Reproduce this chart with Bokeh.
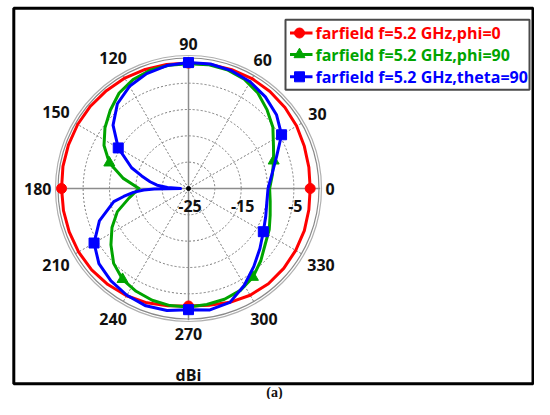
import numpy as np
from bokeh.plotting import figure
from bokeh.models import Range1d, BoxAnnotation
from bokeh.core.properties import value
from bokeh.embed import file_html
from bokeh.resources import INLINE

# ---------------- data ----------------
red_angles = [0, 10, 20, 30, 40, 50, 60, 70, 80, 90, 100, 110, 120, 130, 140, 150,
              160, 170, 180, 190, 200, 210, 220, 230, 240, 250, 260, 270, 280, 290,
              300, 310, 320, 330, 340, 350]
red_db = [-1.9, -1.8, -1.6, -1.3, -1.1, -0.95, -0.9, -1.0, -1.1, -1.2, -1.1, -0.95,
          -0.8, -0.75, -0.7, -0.7, -0.75, -0.8, -0.9, -0.9, -0.9, -0.9, -1.0, -1.2,
          -1.5, -1.9, -2.4, -2.7, -2.5, -2.0, -1.6, -1.4, -1.4, -1.5, -1.6, -1.8]
red_marker_angles = [0, 90, 180, 270]

green_angles = [0, 9, 18, 27, 36, 45, 54, 63, 72, 81, 90, 99, 108, 117, 126, 135,
                144, 153, 162, 171, 180, 189, 198, 207, 216, 225, 234, 243, 252,
                261, 270, 279, 288, 297, 306, 315, 324, 333, 342, 351]
green_db = [-9.6, -8.9, -8.0, -6.9, -5.2, -3.9, -2.6, -1.7, -1.3, -1.2, -1.3, -1.3,
            -1.4, -1.8, -2.6, -4.0, -5.4, -7.0, -9.2, -12.4, -15.6, -13.6, -10.8,
            -8.7, -6.8, -4.9, -3.7, -3.1, -2.7, -2.5, -2.5, -2.7, -2.9, -3.3, -4.2,
            -5.6, -7.0, -7.8, -8.7, -9.3]
green_marker_angles = [18, 90, 162, 234, 306]

blue_angles = [0, 10, 20, 30, 40, 50, 60, 70, 80, 90, 100, 110, 120, 130, 140, 150,
               160, 165, 170, 174, 177, 180, 181, 182, 184, 187, 190, 200, 210, 220,
               230, 240, 250, 260, 270, 280, 290, 300, 310, 320, 330, 340, 350]
blue_db = [-9.9, -8.9, -7.2, -4.6, -3.2, -2.3, -1.6, -1.2, -1.0, -1.1, -1.3, -1.8,
           -2.6, -4.0, -6.3, -9.6, -13.5, -15.8, -17.6, -19.0, -21.0, -23.5, -18.5,
           -16.5, -14.5, -12.6, -10.6, -7.0, -4.3, -2.8, -2.1, -1.6, -1.3, -1.5,
           -2.0, -1.6, -2.0, -3.8, -5.7, -7.3, -8.6, -9.4, -9.9]
blue_marker_angles = [30, 90, 150, 210, 270, 330]

series_labels = ["farfield f=5.2 GHz,phi=0",
                 "farfield f=5.2 GHz,phi=90",
                 "farfield f=5.2 GHz,theta=90"]
series_colors = ["#ff0000", "#00a400", "#0000ff"]
series_markers = ["circle", "triangle", "square"]

angle_ticks = [0, 30, 60, 90, 120, 150, 180, 210, 240, 270, 300, 330]
angle_labels = ["0", "30", "60", "90", "120", "150", "180", "210", "240", "270", "300", "330"]
radial_ticks = [-25, -15, -5]
radial_labels = ["-25", "-15", "-5"]
grid_db = [-20, -15, -10, -5]
db_min, db_max = -25, 0
unit_label = "dBi"
caption = "(a)"

# ---------------- geometry ----------------
R_OUT = 131.7                      # px radius of the 0 dB ring
SCALE = R_OUT / (db_max - db_min)  # px per dB
FONT = value("Open Sans")
W, H = 534, 399
CX, CY = 188, 188                  # pixel position of the pole inside the figure


def rad(db):
    return (np.asarray(db, dtype=float) - db_min) * SCALE


def xy(angles, db, close=True):
    a = np.radians(np.asarray(angles, dtype=float))
    r = rad(db)
    x, y = r * np.cos(a), r * np.sin(a)
    if close:
        x, y = np.append(x, x[0]), np.append(y, y[0])
    return x, y


p = figure(width=W, height=H, output_backend="svg", toolbar_location=None,
           x_range=Range1d(-CX, W - CX), y_range=Range1d(CY - H, CY),
           x_axis_location=None, y_axis_location=None, min_border=0,
           background_fill_color="white", border_fill_color="white")
p.grid.visible = False
p.outline_line_color = None

# outer frame
p.add_layout(BoxAnnotation(left=13.3 - CX, right=532.5 - CX, top=CY - 7.8, bottom=CY - 383.3,
                           fill_alpha=0, line_color="black", line_alpha=1, line_width=3))

# dotted rings
p.circle(x=[0] * len(grid_db), y=[0] * len(grid_db), radius=list(rad(grid_db)),
         fill_color=None, line_color="#7a7a7a", line_width=1, line_dash="2 2")
# dotted spokes
spokes = [a for a in angle_ticks if a % 90 != 0]
sa = np.radians(spokes)
p.segment(x0=[0] * len(spokes), y0=[0] * len(spokes),
          x1=list(R_OUT * np.cos(sa)), y1=list(R_OUT * np.sin(sa)),
          line_color="#7a7a7a", line_width=1, line_dash="2 2")
# solid axes
p.segment(x0=[-R_OUT, 0], y0=[0, -R_OUT], x1=[R_OUT, 0], y1=[0, R_OUT],
          line_color="#8c8c8c", line_width=1.5)
# outer double ring
p.circle(x=[0, 0], y=[0, 0], radius=[R_OUT - 1.2, R_OUT + 1.3],
         fill_color=None, line_color=["#8a8a8a", "#b0b0b0"], line_width=1.2)
p.scatter(x=[0], y=[0], size=4, color="black")

# series
series = [(red_angles, red_db, red_marker_angles),
          (green_angles, green_db, green_marker_angles),
          (blue_angles, blue_db, blue_marker_angles)]
for (ang, db, mang), col, mk in zip(series, series_colors, series_markers):
    x, y = xy(ang, db)
    p.line(x, y, line_color=col, line_width=3, line_join="round")
    mdb = [db[ang.index(m)] for m in mang]
    mx, my = xy(mang, mdb, close=False)
    p.scatter(mx, my, marker=mk, size=11 if mk == "triangle" else 10,
              fill_color=col, line_color=col)

# angle labels
lx, ly = [], []
for a, lab in zip(angle_ticks, angle_labels):
    t = np.radians(a)
    w = 9.2 * len(lab)
    R = 137 + (w / 2) * abs(np.cos(t)) + 8 * abs(np.sin(t))
    lx.append(R * np.cos(t))
    ly.append(R * np.sin(t))
p.text(x=lx, y=ly, text=angle_labels, text_align="center", text_baseline="middle",
       text_font=FONT, text_font_style="bold", text_font_size="16px", text_color="#111111")

# radial labels
p.text(x=list(rad(radial_ticks) + 1.5), y=[-17] * len(radial_ticks), text=radial_labels,
       text_align="center", text_baseline="middle", text_font=FONT,
       text_font_style="bold", text_font_size="16px", text_color="#111111")

p.text(x=[0], y=[CY - 374], text=[unit_label], text_align="center", text_baseline="middle",
       text_font=FONT, text_font_style="bold", text_font_size="16px", text_color="#111111")
p.text(x=[274 - CX], y=[CY - 391.5], text=[caption], text_align="center",
       text_baseline="middle", text_font=value("Liberation Serif"), text_font_style="bold",
       text_font_size="14px", text_color="#111111")

# legend (manual, coloured labels)
LG_L, LG_R, LG_T, LG_B = 285 - CX, 529 - CX, CY - 19.3, CY - 89.3
p.quad(left=[LG_L], right=[LG_R], top=[LG_T], bottom=[LG_B],
       fill_color="white", line_color="#4a4a4a", line_width=2)
row_y = [LG_T - 13.2, LG_T - 34.7, LG_T - 57.0]
p.segment(x0=[LG_L + 4.5] * 3, y0=row_y, x1=[LG_L + 27] * 3, y1=row_y,
          line_color=series_colors, line_width=3)
for yy, col, mk in zip(row_y, series_colors, series_markers):
    p.scatter([LG_L + 14], [yy], marker=mk, size=11 if mk == "triangle" else 10,
              fill_color=col, line_color=col)
p.text(x=[LG_L + 30] * 3, y=row_y, text=series_labels, text_color=series_colors,
       text_align="left", text_baseline="middle", text_font=FONT,
       text_font_style="bold", text_font_size="16px")

open("out.html", "w").write(file_html(p, INLINE))
